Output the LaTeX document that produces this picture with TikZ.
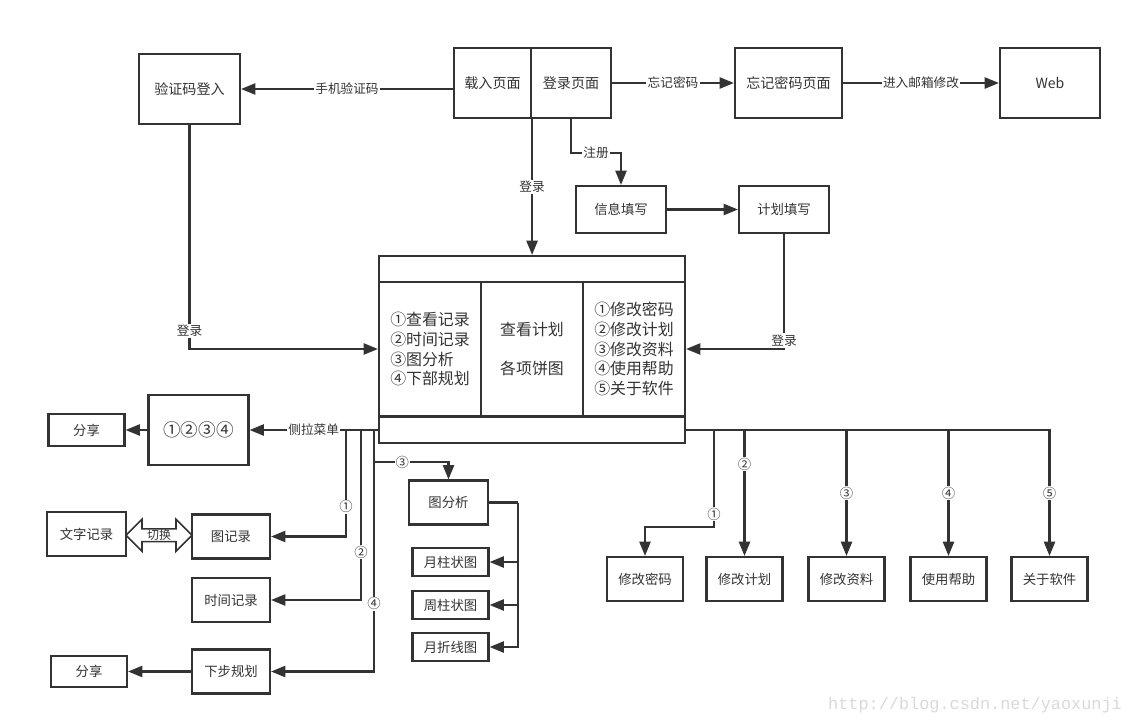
\documentclass[tikz,border=0pt]{standalone}
\usepackage{fontspec}
\setmainfont{Noto Sans CJK SC}
\newfontfamily\wmfont{Liberation Mono}
\usepackage{xcolor}
\usepackage{tikz}
\usetikzlibrary{arrows.meta}
\usetikzlibrary{shapes.arrows}
\usetikzlibrary{calc}
\definecolor{linec}{HTML}{333333}
\tikzset{
    box/.style = {rectangle, draw=linec, line width=1.5pt, align=center, fill=white, text=linec, inner sep=0pt, font=\fontsize{9.5}{11}\selectfont, minimum width=1.95cm, minimum height=1.1cm},
    pagebox/.style = {box, font=\fontsize{10}{12}\selectfont, minimum width=2.5cm, minimum height=1.75cm},
    smallbox/.style = {box, minimum width=1.9cm, minimum height=0.75cm},
    mainpart/.style = {box, font=\fontsize{11.3}{14.2}\selectfont, minimum width=2.55cm, minimum height=3.35cm},
    mainrow/.style = {box, minimum width=7.65cm, minimum height=0.65cm},
    swaparrow/.style = {double arrow, draw=linec, line width=1.2pt, fill=white, text=linec, inner sep=0pt, font=\fontsize{8.5}{9}\selectfont, minimum height=1.65cm, double arrow head extend=0.24cm},
    edgen/.style = {-, line width=1.5pt, draw=linec},
    edgea/.style = {edgen, -{Triangle[length=0.36cm, width=0.28cm]}},
    elabel/.style = {fill=white, text=linec, inner sep=1pt, font=\fontsize{9}{10}\selectfont},
    nlabel/.style = {fill=white, text=linec, inner sep=0.5pt, font=\fontsize{9.5}{10}\selectfont},
}
\begin{document}
\begin{tikzpicture}[x=0.025cm, y=-0.025cm]
\useasboundingbox (0,0) rectangle (1132,724);
% top row
\node[pagebox, minimum width=2.525cm] at (189.5,89) (yzm) {验证码登入};
\node[pagebox, minimum width=1.925cm] at (492.5,83) (zairu) {载入页面};
\node[pagebox, minimum width=2cm] at (571,83) (denglu) {登录页面};
\node[pagebox, minimum width=2.675cm] at (788.5,83) (wjmm) {忘记密码页面};
\node[pagebox] at (1050,83) (web) {Web};
\node[box, minimum width=2.25cm, minimum height=1.175cm] at (621,209.5) (xinxi) {信息填写};
\node[box, minimum width=2.25cm, minimum height=1.175cm] at (784,209.5) (jhtx) {计划填写};
% main page
\node[mainrow] at (532,269) (mtop) {};
\node[mainpart, align=left] at (430,349) (mleft) {①查看记录\\②时间记录\\③图分析\\④下部规划};
\node[mainpart, font=\fontsize{11.3}{27.6}\selectfont] at (532,349) (mmid) {查看计划\\各项饼图};
\node[mainpart, align=left, font=\fontsize{11.3}{14}\selectfont] at (634,349) (mright) {①修改密码\\②修改计划\\③修改资料\\④使用帮助\\⑤关于软件};
\node[mainrow] at (532,430) (mbot) {};
% side menu
\node[pagebox, font=\fontsize{12.5}{14}\selectfont] at (198.5,430) (side) {①②③④};
\node[smallbox, minimum height=0.8cm] at (86.5,430) (share1) {分享};
\node[box, minimum width=1.975cm] at (86.5,534) (wzjl) {文字记录};
\node[box] at (231,536.5) (tujl) {图记录};
\node[box] at (231,600) (sjjl) {时间记录};
\node[box] at (231,671.5) (xbgh) {下步规划};
\node[smallbox, minimum height=0.78cm] at (89,671.5) (share2) {分享};
\node[box, minimum width=1.975cm] at (448.5,502.5) (tfx) {图分析};
\node[smallbox, minimum height=0.72cm] at (450.5,562) (yzz) {月柱状图};
\node[smallbox, minimum height=0.72cm] at (450.5,605) (zzz) {周柱状图};
\node[smallbox, minimum height=0.72cm] at (450.5,647) (yzx) {月折线图};
% settings
\node[box, minimum width=1.9cm] at (645,579) (xgmm) {修改密码};
\node[box, minimum width=1.9cm] at (744.5,579) (xgjh) {修改计划};
\node[box, minimum width=1.9cm] at (846.5,579) (xgzl) {修改资料};
\node[box, minimum width=1.9cm] at (948.5,579) (syzz) {使用帮助};
\node[box, minimum width=1.9cm] at (1049.5,579) (gyrj) {关于软件};
\node[swaparrow] at ($(wzjl.east)!0.5!(tujl.west)$) (qh) {切换};
\node[font=\wmfont\fontsize{12}{12}\selectfont, text=gray!30] at (975,705) (wm) {http://blog.csdn.net/yaoxunji};
\coordinate (b1) at (346,430);
\coordinate (b2) at (361,430);
\coordinate (b3) at (374,430);
\coordinate (b3s) at (374,462);
\coordinate (tk) at (518,502.5);
\coordinate (r1) at (714,430);
%
\draw[edgea] (zairu.west |- yzm.east) -- node[elabel] {手机验证码} (yzm.east);
\draw[edgea] (denglu) -- node[elabel] {忘记密码} (wjmm);
\draw[edgea] (wjmm) -- node[elabel] {进入邮箱修改} (web);
\draw[edgea] (denglu.south) -- ++(0,34) -| node[elabel,pos=0.25] {注册} (xinxi.north);
\draw[edgea] (zairu.south east) -- node[elabel] {登录} (zairu.south east |- mtop.north);
\draw[edgea] (xinxi) -- (jhtx);
\draw[edgea] (jhtx.south) |- node[elabel,pos=0.5,above] {登录} (mright.east);
\draw[edgea] (yzm.south) |- node[elabel,pos=0.46] {登录} (mleft.west);
%
\draw[edgea] (mbot.west) -- node[elabel] {侧拉菜单} (side);
\draw[edgea] (side) -- (share1);
\draw[edgea] (b1) |- node[nlabel,pos=0.36] {①} (tujl);
\draw[edgea] (b2) |- node[nlabel,pos=0.36] {②} (sjjl);
\draw[edgea] (b3) |- node[nlabel,pos=0.36] {④} (xbgh);
\draw[edgea] (b3s) -| node[nlabel,pos=0.19] {③} (tfx);
\draw[edgea] (xbgh) -- (share2);
%
\draw[edgen] (tfx.east) -- (tk);
\draw[edgea] (tk) |- (yzz);
\draw[edgea] (tk) |- (zzz);
\draw[edgea] (tk) |- (yzx);
%
\draw[edgea] (mbot.east) -| node[nlabel,pos=0.75] {⑤} (gyrj);
\draw[edgea] (r1) -- node[nlabel,pos=0.87] {①} ++(0,97) -| (xgmm);
\draw[edgea] (xgjh |- mbot.east) -- node[nlabel,pos=0.27] {②} (xgjh);
\draw[edgea] (xgzl |- mbot.east) -- node[nlabel,pos=0.5] {③} (xgzl);
\draw[edgea] (syzz |- mbot.east) -- node[nlabel,pos=0.5] {④} (syzz);
\end{tikzpicture}
\end{document}
